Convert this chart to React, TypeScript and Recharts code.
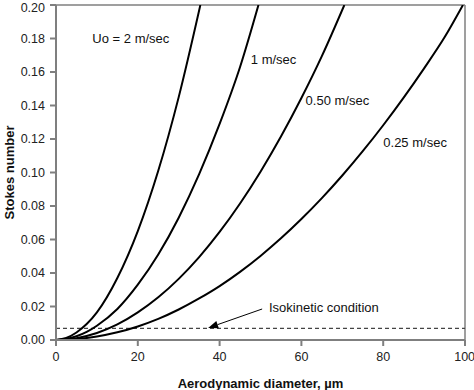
import React from 'react';
import { LineChart, Line, XAxis, YAxis, ReferenceLine, ReferenceDot } from 'recharts';

// Aerodynamic diameter (µm) and Stokes number readings for each free-stream velocity
const d2 = [0, 2.5, 5, 7.5, 10, 15, 20, 25, 30, 35.3];
const stk2 = [0, 0.0012, 0.0045, 0.0095, 0.0165, 0.037, 0.065, 0.101, 0.145, 0.2];

const d1 = [0, 2.5, 5, 7.5, 10, 15, 20, 25, 30, 35, 40, 45, 49.5];
const stk1 = [0, 0.0006, 0.0022, 0.0048, 0.0085, 0.0185, 0.033, 0.051, 0.073, 0.099, 0.129, 0.163, 0.2];

const d05 = [0, 2.5, 5, 10, 15, 20, 25, 30, 35, 40, 45, 50, 55, 60, 65, 70.5];
const stk05 = [0, 0.0003, 0.0011, 0.0042, 0.0093, 0.0165, 0.0255, 0.0365, 0.0495, 0.0645, 0.0815, 0.1005, 0.1215, 0.1445, 0.1695, 0.2];

const d025 = [0, 2.5, 5, 10, 15, 20, 25, 30, 35, 40, 45, 50, 55, 60, 65, 70, 75, 80, 85, 90, 95, 99.5];
const stk025 = [0, 0.0002, 0.0006, 0.0021, 0.0046, 0.0081, 0.0126, 0.0182, 0.0248, 0.0322, 0.0407, 0.0502, 0.0607, 0.0722, 0.0847, 0.0982, 0.1127, 0.1282, 0.1447, 0.1622, 0.1807, 0.2];

const isokineticStk = 0.007;

const xTicks = [0, 20, 40, 60, 80, 100];
const yTicks = [0, 0.02, 0.04, 0.06, 0.08, 0.1, 0.12, 0.14, 0.16, 0.18, 0.2];

const seriesLabels = ['Uo = 2 m/sec', '1 m/sec', '0.50 m/sec', '0.25 m/sec'];
const labelAnchors = [
  { d: 18.3, s: 0.1803 },
  { d: 53.2, s: 0.1678 },
  { d: 68.8, s: 0.1433 },
  { d: 87.8, s: 0.118 },
];
const isoLabel = 'Isokinetic condition';
const isoLabelAnchor = { d: 65.5, s: 0.0197 };
const arrowFrom = { d: 50.4, s: 0.0185 };
const arrowTo = { d: 37.2, s: 0.0072 };

const toPoints = (xs: number[], ys: number[]) => xs.map((x, i) => ({ d: x, s: ys[i] }));

const FONT = '"Liberation Sans", Arial, sans-serif';
const AXIS = '#7f7f7f';

const ArrowShape = (props: any) => {
  const { x1, y1, x2, y2 } = props;
  if ([x1, y1, x2, y2].some((v) => typeof v !== 'number' || isNaN(v))) return <g />;
  const ang = Math.atan2(y2 - y1, x2 - x1);
  const len = 10;
  const half = 3.8;
  const bx = x2 - len * Math.cos(ang);
  const by = y2 - len * Math.sin(ang);
  const px = -Math.sin(ang) * half;
  const py = Math.cos(ang) * half;
  return (
    <g>
      <line x1={x1} y1={y1} x2={bx} y2={by} stroke="#000" strokeWidth={1} />
      <polygon points={`${x2},${y2} ${bx + px},${by + py} ${bx - px},${by - py}`} fill="#000" />
    </g>
  );
};

export default function App() {
  const series = [toPoints(d2, stk2), toPoints(d1, stk1), toPoints(d05, stk05), toPoints(d025, stk025)];
  return (
    <div style={{ position: 'absolute', left: 0, top: 0, width: 474, height: 390, background: '#fff' }}>
      <LineChart width={474} height={390} margin={{ top: 5, right: 9, left: 0, bottom: 0 }}>
        <XAxis
          type="number"
          dataKey="d"
          domain={[0, 100]}
          ticks={xTicks}
          allowDataOverflow
          height={50}
          stroke={AXIS}
          strokeWidth={2}
          tickSize={6}
          tickMargin={6}
          tick={{ fill: '#222', fontSize: 12.5, fontFamily: FONT }}
          label={{
            value: 'Aerodynamic diameter, µm',
            position: 'insideBottom',
            offset: 2,
            style: { fill: '#111', fontSize: 13, fontWeight: 'bold', fontFamily: FONT },
          }}
        />
        <YAxis
          type="number"
          dataKey="s"
          domain={[0, 0.2]}
          ticks={yTicks}
          allowDataOverflow
          width={56}
          stroke={AXIS}
          strokeWidth={2}
          tickSize={6}
          tickMargin={5}
          tickFormatter={(v: number) => v.toFixed(2)}
          tick={{ fill: '#222', fontSize: 12.5, fontFamily: FONT }}
          label={{
            value: 'Stokes number',
            angle: -90,
            position: 'insideLeft',
            offset: 9,
            style: { textAnchor: 'middle', fill: '#111', fontSize: 13, fontWeight: 'bold', fontFamily: FONT },
          }}
        />
        <ReferenceLine y={0.2} stroke={AXIS} strokeWidth={1.5} />
        <ReferenceLine x={100} stroke={AXIS} strokeWidth={1.5} />
        <ReferenceLine y={isokineticStk} stroke="#444" strokeWidth={1.2} strokeDasharray="4 3" />
        {series.map((pts, i) => (
          <Line
            key={i}
            data={pts}
            dataKey="s"
            type="monotone"
            stroke="#000"
            strokeWidth={2}
            dot={false}
            isAnimationActive={false}
          />
        ))}
        <ReferenceLine
          segment={[{ x: arrowFrom.d, y: arrowFrom.s }, { x: arrowTo.d, y: arrowTo.s }]}
          shape={ArrowShape}
        />
        {labelAnchors.map((a, i) => (
          <ReferenceDot
            key={'l' + i}
            x={a.d}
            y={a.s}
            r={0}
            fill="none"
            stroke="none"
            label={{ value: seriesLabels[i], position: 'center', style: { fill: '#111', fontSize: 13, fontFamily: FONT } }}
          />
        ))}
        <ReferenceDot
          x={isoLabelAnchor.d}
          y={isoLabelAnchor.s}
          r={0}
          fill="none"
          stroke="none"
          label={{ value: isoLabel, position: 'center', style: { fill: '#111', fontSize: 13, fontFamily: FONT } }}
        />
      </LineChart>
    </div>
  );
}
